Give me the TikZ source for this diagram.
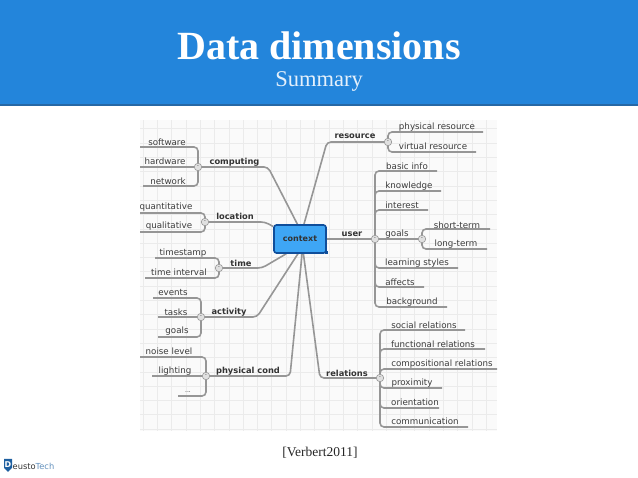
\documentclass[tikz,border=0pt]{standalone}
\usepackage{fontspec}
\setmainfont{Liberation Serif}
\newfontfamily\mapfont{DejaVu Sans}
\definecolor{headblue}{RGB}{35,133,219}
\definecolor{headdark}{RGB}{38,104,165}
\definecolor{contextblue}{RGB}{62,166,245}
\definecolor{contextedge}{RGB}{15,78,155}
\definecolor{maptext}{RGB}{60,60,60}
\definecolor{mapline}{RGB}{150,150,150}
\definecolor{logoblue}{RGB}{30,95,160}
\pgfdeclarelayer{backdrop}
\pgfdeclarelayer{maplines}
\pgfsetlayers{backdrop,maplines,main}
\tikzset{
  leaf/.style={text=maptext,inner sep=0pt,font=\mapfont\fontsize{8.7}{10}\selectfont},
  topic/.style={text=black!80,inner sep=0pt,font=\mapfont\bfseries\fontsize{8.3}{10}\selectfont},
  branch/.style={draw=mapline,line width=1.6pt,rounded corners=4pt},
  collapse/.style={circle,draw=mapline,fill=black!12,line width=.6pt,minimum size=7.5pt,inner sep=0pt,text=black!60,font=\mapfont\fontsize{6}{6}\selectfont},
}
\begin{document}
\begin{tikzpicture}[x=1pt,y=-1pt]
                \useasboundingbox (0,0) rectangle (638,478);
                \begin{pgfonlayer}{backdrop}
                % header band
                \fill[headblue] (0,0) rectangle (638,104);
                \fill[headdark] (0,104) rectangle (638,106);
                % screenshot with grid
                \fill[black!2] (140,120) rectangle (497,431);
                \draw[black!8,line width=.5pt,step=14.3pt] (140,120) grid (497,431);
                \end{pgfonlayer}
                \node[text=white,font=\bfseries\fontsize{40}{44}\selectfont,inner sep=0pt] (title) at (319,46) {Data dimensions};
                \node[text=white!88!headblue,font=\fontsize{22.5}{26}\selectfont,inner sep=0pt] (subtitle) at (319,81) {Summary};
                % hub
                \node[draw=contextedge,fill=contextblue,line width=1.6pt,rounded corners=2.5pt,minimum width=52pt,minimum height=28pt,inner sep=0pt,text=black!80,font=\mapfont\bfseries\fontsize{8}{10}\selectfont] (context) at (300,239) {context};
                \fill[contextedge] (324.5,251.5) rectangle (327.5,254.5);
                % collapse buttons
                \node[collapse] (cComputing) at (198,167) {-};
                \node[collapse] (cLocation) at (205,222) {-};
                \node[collapse] (cTime) at (219,268) {-};
                \node[collapse] (cActivity) at (201,317) {-};
                \node[collapse] (cPhysical) at (206,376) {-};
                \node[collapse] (cResource) at (388,142) {-};
                \node[collapse] (cUser) at (375,239) {-};
                \node[collapse] (cGoals) at (422,239) {-};
                \node[collapse] (cRelations) at (380,378) {-};
                % free ends of the underlines
                \coordinate (softwareEnd) at (140,147);
                \coordinate (hardwareEnd) at (140,167);
                \coordinate (networkEnd) at (143,186);
                \coordinate (quantitativeEnd) at (140,213);
                \coordinate (qualitativeEnd) at (140,232);
                \coordinate (timestampEnd) at (155,258);
                \coordinate (intervalEnd) at (145,278);
                \coordinate (eventsEnd) at (153,298);
                \coordinate (tasksEnd) at (158,317);
                \coordinate (aGoalsEnd) at (158,337);
                \coordinate (noiseEnd) at (140,357);
                \coordinate (lightingEnd) at (152,376);
                \coordinate (dotsEnd) at (178,396);
                \coordinate (physicalResEnd) at (483,132);
                \coordinate (virtualResEnd) at (476,152);
                \coordinate (basicEnd) at (437,171);
                \coordinate (knowledgeEnd) at (441,191);
                \coordinate (interestEnd) at (428,210);
                \coordinate (stylesEnd) at (458,268);
                \coordinate (affectsEnd) at (424,287);
                \coordinate (backgroundEnd) at (447,307);
                \coordinate (shortEnd) at (490,229);
                \coordinate (longEnd) at (487,249);
                \coordinate (socialEnd) at (465,330);
                \coordinate (functionalEnd) at (485,349);
                \coordinate (compositionalEnd) at (497,369);
                \coordinate (proximityEnd) at (442,388);
                \coordinate (orientationEnd) at (439,408);
                \coordinate (communicationEnd) at (468,427);
                \begin{pgfonlayer}{maplines}
                % hub to topics
                \draw[branch] (cComputing) -- (268,167) -- (context.100);
                \draw[branch] (cLocation) -- (265,222) -- (context.155);
                \draw[branch] (cTime) -- (262,268) -- (context.-133);
                \draw[branch] (cActivity) -- (257,317) -- (context.-98);
                \draw[branch] (cPhysical) -- (290,376) -- (context.-82);
                \draw[branch] (cResource) -- (327,142) -- (context.75);
                \draw[branch] (context) -- (cUser);
                \draw[branch] (cRelations) -- (320,378) -- (context.-77);
                % topics to leaves
                \draw[branch] (softwareEnd) -| (cComputing);
                \draw[branch] (hardwareEnd) -- (cComputing);
                \draw[branch] (networkEnd) -| (cComputing);
                \draw[branch] (quantitativeEnd) -| (cLocation);
                \draw[branch] (qualitativeEnd) -| (cLocation);
                \draw[branch] (timestampEnd) -| (cTime);
                \draw[branch] (intervalEnd) -| (cTime);
                \draw[branch] (eventsEnd) -| (cActivity);
                \draw[branch] (tasksEnd) -- (cActivity);
                \draw[branch] (aGoalsEnd) -| (cActivity);
                \draw[branch] (noiseEnd) -| (cPhysical);
                \draw[branch] (lightingEnd) -- (cPhysical);
                \draw[branch] (dotsEnd) -| (cPhysical);
                \draw[branch] (physicalResEnd) -| (cResource);
                \draw[branch] (virtualResEnd) -| (cResource);
                \draw[branch] (basicEnd) -| (cUser);
                \draw[branch] (knowledgeEnd) -| (cUser);
                \draw[branch] (interestEnd) -| (cUser);
                \draw[branch] (cUser) -- (cGoals);
                \draw[branch] (stylesEnd) -| (cUser);
                \draw[branch] (affectsEnd) -| (cUser);
                \draw[branch] (backgroundEnd) -| (cUser);
                \draw[branch] (shortEnd) -| (cGoals);
                \draw[branch] (longEnd) -| (cGoals);
                \draw[branch] (socialEnd) -| (cRelations);
                \draw[branch] (functionalEnd) -| (cRelations);
                \draw[branch] (compositionalEnd) -| (cRelations);
                \draw[branch] (proximityEnd) -| (cRelations);
                \draw[branch] (orientationEnd) -| (cRelations);
                \draw[branch] (communicationEnd) -| (cRelations);
                \end{pgfonlayer}
                % topic labels
                \node[topic] (computing) at (234.5,162) {computing};
                \node[topic] (location) at (235,216.5) {location};
                \node[topic] (time) at (241,263) {time};
                \node[topic] (activity) at (229,312) {activity};
                \node[topic] (physical) at (248,371) {physical cond};
                \node[topic] (resource) at (355,136) {resource};
                \node[topic] (user) at (352,234) {user};
                \node[topic] (relations) at (347,373) {relations};
                % leaf labels
                \node[leaf] (software) at (167,142) {software};
                \node[leaf] (hardware) at (165,161.5) {hardware};
                \node[leaf] (network) at (168,181) {network};
                \node[leaf] (quantitative) at (166,207) {quantitative};
                \node[leaf] (qualitative) at (169,226.5) {qualitative};
                \node[leaf] (timestamp) at (183,253) {timestamp};
                \node[leaf] (interval) at (179,272.5) {time interval};
                \node[leaf] (events) at (173,292.5) {events};
                \node[leaf] (tasks) at (176,312) {tasks};
                \node[leaf] (aGoals) at (177,331) {goals};
                \node[leaf] (noise) at (169,351) {noise level};
                \node[leaf] (lighting) at (175,371) {lighting};
                \node[leaf,font=\mapfont\fontsize{6}{8}\selectfont] (dots) at (188,392) {...};
                \node[leaf] (physicalRes) at (437,127) {physical resource};
                \node[leaf] (virtualRes) at (433,146) {virtual resource};
                \node[leaf] (basic) at (407,166) {basic info};
                \node[leaf] (knowledge) at (409,186) {knowledge};
                \node[leaf] (interest) at (402,205) {interest};
                \node[leaf] (goals) at (397,234) {goals};
                \node[leaf] (short) at (457,225) {short-term};
                \node[leaf] (long) at (456,244) {long-term};
                \node[leaf] (styles) at (417,263) {learning styles};
                \node[leaf] (affects) at (400,282) {affects};
                \node[leaf] (background) at (412,302) {background};
                \node[leaf] (social) at (424,325) {social relations};
                \node[leaf] (functional) at (433,344) {functional relations};
                \node[leaf] (compositional) at (442,364) {compositional relations};
                \node[leaf] (proximity) at (412,383) {proximity};
                \node[leaf] (orientation) at (415,402) {orientation};
                \node[leaf] (communication) at (425,421) {communication};
                % citation and logo
                \node[text=black!85,font=\fontsize{13.5}{16}\selectfont,inner sep=0pt] (cite) at (320,453) {[Verbert2011]};
                \fill[logoblue] (4,459) -- (12,459) -- (12,468) -- (8,472) -- (4,468) -- cycle;
                \node[text=white,font=\mapfont\bfseries\fontsize{8}{8}\selectfont,inner sep=0pt] (logoD) at (8,465) {D};
                \node[anchor=west,inner sep=0pt,font=\mapfont\fontsize{8.3}{10}\selectfont] (logo) at (12.5,466) {\textcolor{black!80}{eusto}\textcolor{logoblue!70!white}{Tech}};
\end{tikzpicture}
\end{document}
